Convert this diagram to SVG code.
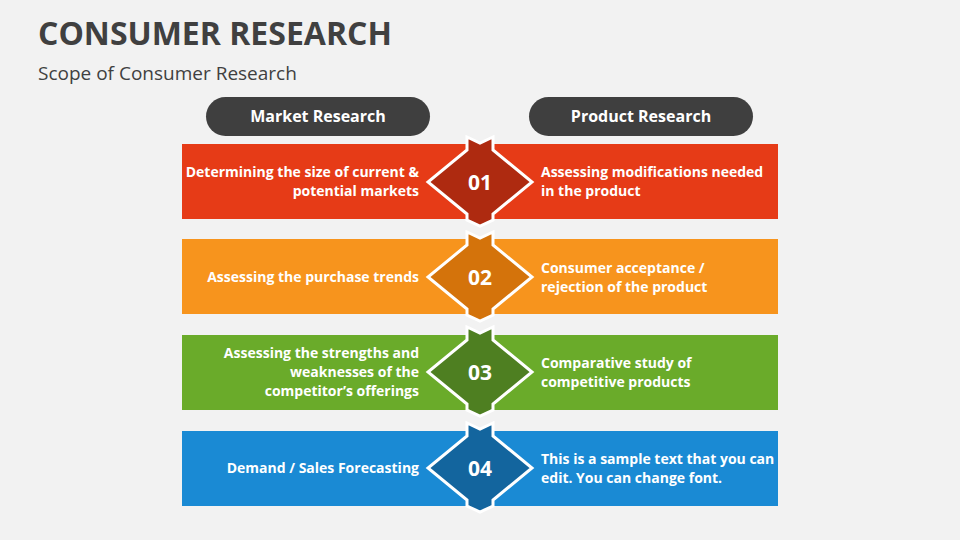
<svg xmlns="http://www.w3.org/2000/svg" width="960" height="540" viewBox="0 0 960 540">
<style>
text{font-family:"Open Sans","Liberation Sans",sans-serif}
.t{font-size:14px;font-weight:bold;fill:#fff}
.n{font-size:21px;font-weight:bold;fill:#fff}
.h{font-size:16px;font-weight:bold;fill:#fff}
.c{stroke:#fff;stroke-width:3;stroke-linejoin:miter}
</style>
<defs>
<polygon id="arr" points="-13,-45 0,-39 13,-45 13,-32 52,0 13,32 13,38 0,44 -13,38 -13,32 -52,0 -13,-32"/>
</defs>
<rect width="960" height="540" fill="#F2F2F2"/>
<text x="38" y="45" font-size="32" font-weight="bold" fill="#404040">CONSUMER RESEARCH</text>
<text x="38" y="80" font-size="19" fill="#404040">Scope of Consumer Research</text>
<g id="hdr-market"><rect x="206" y="97" width="224" height="39" rx="19.5" fill="#3F3F3F"/><text class="h" x="318" y="122" text-anchor="middle">Market Research</text></g>
<g id="hdr-product"><rect x="529" y="97" width="224" height="39" rx="19.5" fill="#3F3F3F"/><text class="h" x="641" y="122" text-anchor="middle">Product Research</text></g>
<g id="row1">
<rect x="182" y="144" width="596" height="75" fill="#E63B17"/>
<use href="#arr" x="480" y="182" fill="#AE2A10" class="c"/>
<text class="t" text-anchor="end"><tspan x="419" y="177">Determining the size of current &amp;</tspan><tspan x="419" y="196">potential markets</tspan></text>
<text class="t"><tspan x="541" y="177">Assessing modifications needed</tspan><tspan x="541" y="196">in the product</tspan></text>
<text class="n" x="480" y="190" text-anchor="middle">01</text>
</g>
<g id="row2">
<rect x="182" y="239" width="596" height="75" fill="#F7941D"/>
<use href="#arr" x="480" y="277" fill="#D4730B" class="c"/>
<text class="t" x="419" y="282" text-anchor="end">Assessing the purchase trends</text>
<text class="t"><tspan x="541" y="273">Consumer acceptance /</tspan><tspan x="541" y="292">rejection of the product</tspan></text>
<text class="n" x="480" y="285" text-anchor="middle">02</text>
</g>
<g id="row3">
<rect x="182" y="335" width="596" height="75" fill="#6AAB2A"/>
<use href="#arr" x="480" y="372" fill="#4E7F21" class="c"/>
<text class="t" text-anchor="end"><tspan x="419" y="358">Assessing the strengths and</tspan><tspan x="419" y="377">weaknesses of the</tspan><tspan x="419" y="396">competitor’s offerings</tspan></text>
<text class="t"><tspan x="541" y="368">Comparative study of</tspan><tspan x="541" y="387">competitive products</tspan></text>
<text class="n" x="480" y="380" text-anchor="middle">03</text>
</g>
<g id="row4">
<rect x="182" y="431" width="596" height="75" fill="#1A8AD4"/>
<use href="#arr" x="480" y="468" fill="#13659E" class="c"/>
<text class="t" x="419" y="473" text-anchor="end">Demand / Sales Forecasting</text>
<text class="t"><tspan x="541" y="464">This is a sample text that you can</tspan><tspan x="541" y="483">edit. You can change font.</tspan></text>
<text class="n" x="480" y="476" text-anchor="middle">04</text>
</g>
<g id="connectors"/>
</svg>
